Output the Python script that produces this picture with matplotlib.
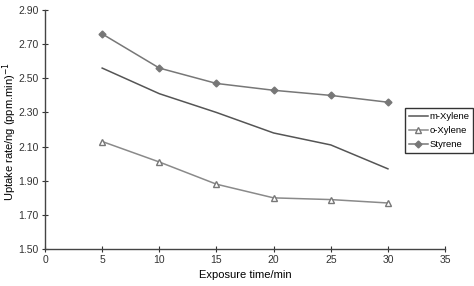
import matplotlib.pyplot as plt
import numpy as np

plt.rcParams['font.family'] = ['Liberation Sans', 'DejaVu Sans']

time = [5, 10, 15, 20, 25, 30]
m_xylene = [2.56, 2.41, 2.30, 2.18, 2.11, 1.97]
o_xylene = [2.13, 2.01, 1.88, 1.80, 1.79, 1.77]
styrene = [2.76, 2.56, 2.47, 2.43, 2.40, 2.36]

fig = plt.figure(figsize=(4.74, 2.86), dpi=100)
ax = fig.add_axes([0.095, 0.129, 0.844, 0.836])

ax.plot(time, m_xylene, "-", color="#555555", lw=1.1, label="m-Xylene")
ax.plot(time, o_xylene, "^-", color="#8a8a8a", lw=1.1, ms=5,
        mfc="white", mec="#777777", label="o-Xylene")
ax.plot(time, styrene, "D-", color="#777777", lw=1.1, ms=3.5,
        mfc="#777777", mec="#777777", label="Styrene")

ax.set_xlim(0, 35)
ax.set_ylim(1.50, 2.90)
ax.set_xticks(np.arange(0, 36, 5))
ax.set_yticks(np.arange(1.50, 2.91, 0.20))
ax.set_yticklabels(["%.2f" % v for v in np.arange(1.50, 2.91, 0.20)])
ax.tick_params(direction="inout", length=5, width=0.8, labelsize=7.5,
               colors="#333333", pad=2)

for s in ["top", "right"]:
    ax.spines[s].set_visible(False)
for s in ["left", "bottom"]:
    ax.spines[s].set_color("#444444")
    ax.spines[s].set_linewidth(1.0)

ax.set_xlabel("Exposure time/min", fontsize=8, labelpad=3)
ax.set_ylabel("Uptake rate/ng (ppm.min)$^{-1}$", fontsize=8)
ax.yaxis.set_label_coords(-0.064, 0.49)

leg = ax.legend(loc="upper left", bbox_to_anchor=(0.9, 0.59), fontsize=6.8,
                frameon=True, fancybox=False, edgecolor="#333333",
                handlelength=2.0, handletextpad=0.2, borderpad=0.4,
                labelspacing=0.55, borderaxespad=0, framealpha=1)
leg.get_frame().set_linewidth(1.0)

plt.savefig("out.png", dpi=100)
